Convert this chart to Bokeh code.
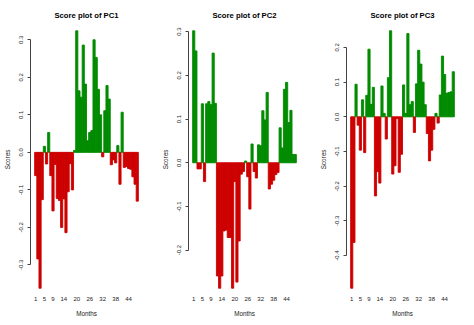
from bokeh.plotting import figure
from bokeh.layouts import row
from bokeh.models import ColumnDataSource, Range1d, FixedTicker, PrintfTickFormatter
from bokeh.embed import file_html
from bokeh.resources import INLINE
import numpy as np

months = list(range(1, 49))
month_ticks = [1, 5, 9, 14, 20, 26, 32, 38, 44]

pc1 = [-0.062, -0.284, -0.362, -0.126, 0.016, -0.031, 0.053, -0.062, -0.156, -0.032,
       -0.123, -0.128, -0.200, -0.124, -0.214, -0.105, -0.030, -0.100, 0.005, 0.324,
       0.164, 0.147, 0.286, 0.182, 0.031, 0.053, 0.058, 0.300, 0.253, 0.168,
       0.100, -0.012, 0.111, 0.178, 0.142, -0.033, -0.020, -0.028, 0.018, -0.085,
       0.107, -0.040, -0.038, -0.043, -0.045, -0.065, -0.085, -0.130]

pc2 = [0.302, 0.256, -0.014, -0.014, 0.135, -0.043, 0.135, 0.140, 0.133, 0.251,
       0.136, -0.259, -0.287, -0.259, -0.156, -0.154, -0.171, -0.171, -0.287, -0.043,
       -0.273, -0.179, -0.026, -0.020, 0.004, -0.032, -0.106, 0.043, -0.020, -0.035,
       0.041, 0.039, 0.119, 0.098, 0.161, -0.060, -0.049, -0.040, -0.027, -0.022,
       0.080, 0.034, 0.168, 0.184, 0.092, 0.120, 0.019, 0.019]

pc3 = [-0.494, -0.362, 0.094, -0.024, -0.096, 0.049, -0.103, 0.062, 0.195, 0.036,
       0.085, -0.228, -0.158, -0.191, 0.089, 0.010, -0.064, 0.113, 0.248, -0.165,
       -0.141, -0.005, -0.160, -0.108, 0.092, 0.010, 0.240, 0.035, 0.044, -0.045,
       0.095, 0.192, 0.152, 0.100, 0.035, -0.048, -0.127, -0.096, -0.036, 0.010,
       -0.018, 0.063, 0.175, 0.122, 0.068, 0.070, 0.072, 0.130]

titles = ["Score plot of PC1", "Score plot of PC2", "Score plot of PC3"]
y_ticks = [[-0.3, -0.2, -0.1, 0.0, 0.1, 0.2, 0.3],
           [-0.2, -0.1, 0.0, 0.1, 0.2, 0.3],
           [-0.4, -0.3, -0.2, -0.1, 0.0, 0.1, 0.2]]

POS = "#008B00"
NEG = "#CD0000"
FONT = "Liberation Sans"


def panel(title, values, ticks):
    vals = np.array(values)
    lo, hi = min(vals.min(), 0), max(vals.max(), 0)
    span = hi - lo
    n = len(months)
    p = figure(width=158, height=325, output_backend="svg", toolbar_location=None,
               x_range=Range1d(0.5 - 0.04 * n, n + 0.5 + 0.04 * n),
               y_range=Range1d(lo - 0.04 * span, hi + 0.04 * span),
               min_border_left=30, min_border_right=16, min_border_top=20,
               min_border_bottom=27, title=title)
    src = ColumnDataSource(dict(x=months, top=vals,
                                color=np.where(vals >= 0, POS, NEG)))
    p.vbar(x="x", top="top", bottom=0, width=1.0, source=src,
           fill_color="color", line_color="color", line_width=0.9)

    p.title.align = "center"
    p.title.text_font = FONT
    p.title.text_font_size = "7.7px"
    p.title.text_font_style = "bold"
    p.title.text_color = "#000000"
    p.title.standoff = 1

    p.xgrid.visible = False
    p.ygrid.visible = False
    p.outline_line_color = None
    p.background_fill_color = "white"
    p.border_fill_color = "white"

    xa = p.xaxis[0]
    xa.ticker = FixedTicker(ticks=month_ticks)
    xa.axis_line_color = None
    xa.major_tick_line_color = None
    xa.minor_tick_line_color = None
    xa.major_tick_out = 0
    xa.major_tick_in = 0
    xa.major_label_text_font = FONT
    xa.major_label_text_font_size = "6px"
    xa.major_label_text_color = "#222222"
    xa.major_label_standoff = -2
    xa.axis_label = "Months"
    xa.axis_label_text_font = FONT
    xa.axis_label_text_font_size = "6.3px"
    xa.axis_label_text_font_style = "normal"
    xa.axis_label_text_color = "#222222"
    xa.axis_label_standoff = 6

    ya = p.yaxis[0]
    ya.ticker = FixedTicker(ticks=ticks)
    ya.bounds = (min(ticks), max(ticks))
    ya.formatter = PrintfTickFormatter(format="%.1f")
    ya.major_label_orientation = "vertical"
    ya.axis_line_color = "#444444"
    ya.major_tick_line_color = "#444444"
    ya.minor_tick_line_color = None
    ya.major_tick_in = 0
    ya.major_tick_out = 3
    ya.major_label_standoff = 4
    ya.major_label_text_font = FONT
    ya.major_label_text_font_size = "6px"
    ya.major_label_text_color = "#222222"
    ya.axis_label = "Scores"
    ya.axis_label_text_font = FONT
    ya.axis_label_text_font_size = "6.3px"
    ya.axis_label_text_font_style = "normal"
    ya.axis_label_text_color = "#222222"
    ya.axis_label_standoff = 6
    return p


p1 = panel(titles[0], pc1, y_ticks[0])
p2 = panel(titles[1], pc2, y_ticks[1])
p3 = panel(titles[2], pc3, y_ticks[2])

layout = row(p1, p2, p3)
open("out.html", "w").write(file_html(layout, INLINE))
